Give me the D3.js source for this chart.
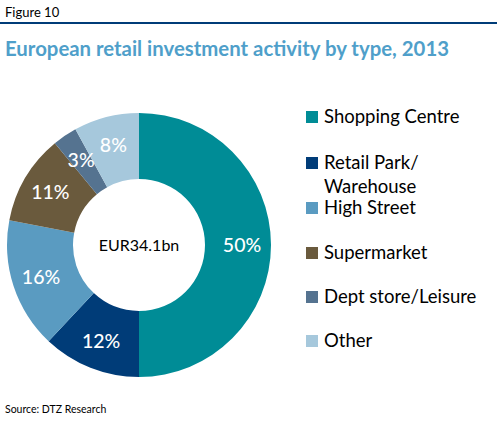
<!DOCTYPE html>
<html><head><meta charset="utf-8">
<script src="https://cdn.jsdelivr.net/npm/d3@7/dist/d3.min.js"></script>
<style>body{margin:0;background:#fff}svg{display:block}text{font-family:Lato,"Open Sans",sans-serif}</style>
</head><body><svg id="c" width="497" height="422"></svg>
<script>
const categories = ["Shopping Centre","Retail Park/\nWarehouse","High Street","Supermarket","Dept store/Leisure","Other"];
const values = [50,12,16,11,3,8];
const colors = ["#008C96","#003C78","#5A9BC1","#6A5A3D","#557390","#A6C8DC"];
const totalLabel = "EUR34.1bn";
const legendY = [117,163,208,253,297,341];

const svg = d3.select("#c");
svg.append("text").attr("x",5).attr("y",17).attr("font-size",13).attr("fill","#000").text("Figure 10");
svg.append("rect").attr("x",0).attr("y",22).attr("width",497).attr("height",2).attr("fill","#003C78");
svg.append("text").attr("x",5).attr("y",56).attr("font-size",20).attr("font-weight","bold").attr("fill","#4F9FCA").attr("textLength",444).attr("lengthAdjust","spacingAndGlyphs").text("European retail investment activity by type, 2013");

const data = values.map((v,i)=>({name:categories[i],value:v,color:colors[i]}));
const pie = d3.pie().sort(null).value(d=>d.value);
const arc = d3.arc().innerRadius(66).outerRadius(132);
const labelArc = d3.arc().innerRadius(70).outerRadius(136);
const g = svg.append("g").attr("transform","translate(139,245)");
const arcs = pie(data);
g.selectAll("path").data(arcs).join("path").attr("d",arc).attr("fill",d=>d.data.color);
g.selectAll("text.l").data(arcs).join("text").attr("class","l")
 .attr("transform",d=>`translate(${labelArc.centroid(d)})`)
 .attr("text-anchor","middle").attr("dy","0.35em").attr("font-size",19.5).attr("font-weight",500).attr("fill","#fff")
 .text(d=>d.data.value+"%");
g.append("text").attr("text-anchor","middle").attr("dy","0.35em").attr("font-size",16).attr("fill","#000").text(totalLabel);

const lg = svg.append("g");
data.forEach((d,i)=>{
  const y = legendY[i];
  lg.append("rect").attr("x",306).attr("y",y-6).attr("width",12).attr("height",12).attr("fill",d.color);
  const lines = d.name.split("\n");
  lines.forEach((t,j)=>{
    lg.append("text").attr("x",324).attr("y",y+j*24).attr("dy","0.35em").attr("font-size",18.5).attr("fill","#000").text(t);
  });
});
svg.append("text").attr("x",5).attr("y",413).attr("font-size",10.5).attr("fill","#000").text("Source: DTZ Research");
</script></body></html>
